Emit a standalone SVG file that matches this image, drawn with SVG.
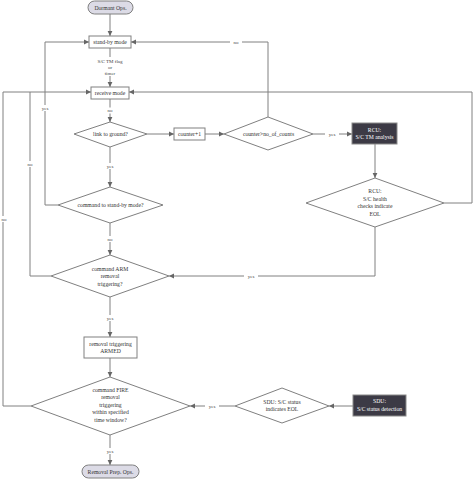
<svg xmlns="http://www.w3.org/2000/svg" width="474" height="479" viewBox="0 0 474 479">
<defs>
<marker id="arr" markerUnits="userSpaceOnUse" markerWidth="6" markerHeight="6" refX="5" refY="3" orient="auto">
<path d="M0,0.6 L5,3 L0,5.4 z" fill="#666"/>
</marker>
<style>
.ln{fill:none;stroke:#808080;stroke-width:1}
.box{fill:#fff;stroke:#808080;stroke-width:1}
.pill{fill:#dcdbe6;stroke:#808080;stroke-width:1}
.dark{fill:#3c3a45;stroke:#8a8a8a;stroke-width:1}
.t{font-family:"Liberation Serif",serif;font-size:5.7px;fill:#333;text-anchor:middle}
.tw{font-family:"Liberation Serif",serif;font-size:5.7px;fill:#fff;text-anchor:middle}
.lb{font-family:"Liberation Serif",serif;font-size:5px;fill:#444;text-anchor:middle}
.bg{fill:#fff}
</style>
</defs>
<rect width="474" height="479" fill="#fff"/>
<g id="connectors">
<path class="ln" d="M110,14 V36" marker-end="url(#arr)"/>
<path class="ln" d="M110,48 V87" marker-end="url(#arr)"/>
<path class="ln" d="M110,99 V122" marker-end="url(#arr)"/>
<path class="ln" d="M147,134 H174" marker-end="url(#arr)"/>
<path class="ln" d="M205,134 H224" marker-end="url(#arr)"/>
<path class="ln" d="M268,117 V42 H131" marker-end="url(#arr)"/>
<path class="ln" d="M313,134 H352" marker-end="url(#arr)"/>
<path class="ln" d="M375,144 V178" marker-end="url(#arr)"/>
<path class="ln" d="M444,203 H472 V92 H129" marker-end="url(#arr)"/>
<path class="ln" d="M375,227 V276 H169" marker-end="url(#arr)"/>
<path class="ln" d="M110,147 V187" marker-end="url(#arr)"/>
<path class="ln" d="M58,205 H45 V42 H89" marker-end="url(#arr)"/>
<path class="ln" d="M110,223 V255" marker-end="url(#arr)"/>
<path class="ln" d="M51,276 H30 V92 H91" marker-end="url(#arr)"/>
<path class="ln" d="M110,297 V337" marker-end="url(#arr)"/>
<path class="ln" d="M110,358 V377" marker-end="url(#arr)"/>
<path class="ln" d="M31,406 H3 V92 H30"/>
<path class="ln" d="M110,435 V465" marker-end="url(#arr)"/>
<path class="ln" d="M353,406 H329" marker-end="url(#arr)"/>
<path class="ln" d="M235,406 H190" marker-end="url(#arr)"/>
<g id="labels">
<rect class="bg" x="95" y="57" width="30" height="19"/>
<text class="lb" x="110" y="62.5">S/C TM flag</text>
<text class="lb" x="110" y="68.5">or</text>
<text class="lb" x="110" y="74.5">timer</text>
<rect class="bg" x="105" y="107.5" width="10" height="6"/>
<text class="lb" x="110" y="112">no</text>
<rect class="bg" x="230" y="39" width="12" height="6"/>
<text class="lb" x="236" y="43.6">no</text>
<rect class="bg" x="325" y="131" width="14" height="6"/>
<text class="lb" x="332" y="135.6">yes</text>
<rect class="bg" x="103" y="163" width="14" height="6"/>
<text class="lb" x="110" y="167.6">yes</text>
<rect class="bg" x="39" y="105" width="12" height="6"/>
<text class="lb" x="45" y="109.6">yes</text>
<rect class="bg" x="25" y="161" width="10" height="6"/>
<text class="lb" x="30" y="165.6">no</text>
<rect class="bg" x="105" y="236" width="10" height="6"/>
<text class="lb" x="110" y="240.6">no</text>
<rect class="bg" x="0" y="216" width="9" height="6"/>
<text class="lb" x="4" y="220.6">no</text>
<rect class="bg" x="244" y="273" width="14" height="6"/>
<text class="lb" x="251" y="277.6">yes</text>
<rect class="bg" x="103" y="315" width="14" height="6"/>
<text class="lb" x="110" y="319.6">yes</text>
<rect class="bg" x="103" y="448" width="14" height="6"/>
<text class="lb" x="110" y="452.6">yes</text>
<rect class="bg" x="205" y="403" width="14" height="6"/>
<text class="lb" x="212" y="407.6">yes</text>
</g>
</g>
<g id="dormant">
<rect class="pill" x="88" y="1" width="45" height="13" rx="6.5"/>
<text class="t" x="110.5" y="9.6">Dormant Ops.</text>
</g>
<g id="standby">
<rect class="box" x="89" y="36" width="42" height="12"/>
<text class="t" x="110" y="43.8">stand-by mode</text>
</g>
<g id="receive">
<rect class="box" x="91" y="87" width="38" height="12"/>
<text class="t" x="110" y="94.8">receive mode</text>
</g>
<g id="link">
<polygon class="box" points="74,134 110,122 147,134 110,147"/>
<text class="t" x="110.5" y="136">link to ground?</text>
</g>
<g id="counter">
<rect class="box" x="174" y="128" width="31" height="12"/>
<text class="t" x="189.5" y="135.8">counter+1</text>
</g>
<g id="counterdiamond">
<polygon class="box" points="224,134 268,117 313,134 268,150"/>
<text class="t" x="268.5" y="136">counter&gt;no_of_counts</text>
</g>
<g id="rcu_analysis">
<rect class="dark" x="352" y="123" width="45" height="21"/>
<text class="tw" x="374.5" y="131.5">RCU:</text>
<text class="tw" x="374.5" y="139">S/C TM analysis</text>
</g>
<g id="rcu_health">
<polygon class="box" points="306,203 375,178 444,203 375,227"/>
<text class="t" x="375" y="193">RCU:</text>
<text class="t" x="375" y="200.5">S/C health</text>
<text class="t" x="375" y="208">checks indicate</text>
<text class="t" x="375" y="215.5">EOL</text>
</g>
<g id="cmd_standby">
<polygon class="box" points="58,205 110,187 163,205 110,223"/>
<text class="t" x="110.5" y="207">command to stand-by mode?</text>
</g>
<g id="cmd_arm">
<polygon class="box" points="51,276 110,255 169,276 110,297"/>
<text class="t" x="110" y="270.5">command ARM</text>
<text class="t" x="110" y="278">removal</text>
<text class="t" x="110" y="285.5">triggering?</text>
</g>
<g id="armed">
<rect class="box" x="84" y="337" width="53" height="21"/>
<text class="t" x="110.5" y="345.5">removal triggering</text>
<text class="t" x="110.5" y="353">ARMED</text>
</g>
<g id="cmd_fire">
<polygon class="box" points="31,406 110,377 190,406 110,435"/>
<text class="t" x="110.5" y="391.5">command FIRE</text>
<text class="t" x="110.5" y="399">removal</text>
<text class="t" x="110.5" y="406.5">triggering</text>
<text class="t" x="110.5" y="414">within specified</text>
<text class="t" x="110.5" y="421.5">time window?</text>
</g>
<g id="sdu_eol">
<polygon class="box" points="235,406 282,388 329,406 282,423"/>
<text class="t" x="282" y="403.5">SDU: S/C status</text>
<text class="t" x="282" y="411">indicates EOL</text>
</g>
<g id="sdu_detect">
<rect class="dark" x="353" y="395" width="53" height="21"/>
<text class="tw" x="379.5" y="403">SDU:</text>
<text class="tw" x="379.5" y="411">S/C status detection</text>
</g>
<g id="removal">
<rect class="pill" x="82" y="465" width="57" height="13" rx="6.5"/>
<text class="t" x="110.5" y="473.6">Removal Prep. Ops.</text>
</g>
</svg>
